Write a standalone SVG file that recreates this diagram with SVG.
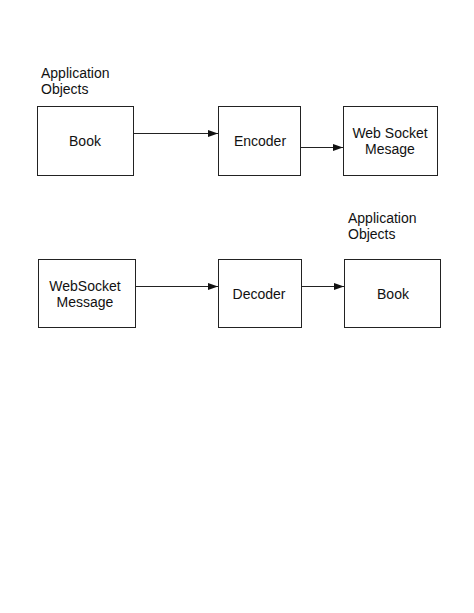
<svg xmlns="http://www.w3.org/2000/svg" width="474" height="613" viewBox="0 0 474 613">
<style>
.box{fill:#fff;stroke:#222;stroke-width:1}
.t{font-family:"Liberation Sans",Arial,sans-serif;font-size:14px;fill:#111}
.c{text-anchor:middle}
.ln{stroke:#222;stroke-width:1;fill:none}
</style>
<defs>
<marker id="ah" markerWidth="10" markerHeight="7" refX="10" refY="3.5" orient="auto" markerUnits="userSpaceOnUse">
<path d="M0,0 L10,3.5 L0,7 Z" fill="#111"/>
</marker>
</defs>
<rect width="474" height="613" fill="#fff"/>
<g id="label1"><text class="t" x="41" y="78">Application</text><text class="t" x="41" y="94">Objects</text></g>
<g id="label2"><text class="t" x="348" y="223">Application</text><text class="t" x="348" y="239">Objects</text></g>
<g id="book1"><rect class="box" x="37.5" y="106.5" width="96" height="69"/><text class="t c" x="85" y="146">Book</text></g>
<g id="encoder"><rect class="box" x="218.5" y="106.5" width="82" height="69"/><text class="t c" x="260" y="146">Encoder</text></g>
<g id="wsmsg1"><rect class="box" x="343.5" y="106.5" width="94" height="69"/><text class="t c" x="390" y="138">Web Socket</text><text class="t c" x="390" y="154">Mesage</text></g>
<g id="wsmsg2"><rect class="box" x="38.5" y="259.5" width="97" height="68"/><text class="t c" x="85" y="291">WebSocket</text><text class="t c" x="85" y="307">Message</text></g>
<g id="decoder"><rect class="box" x="218.5" y="259.5" width="83" height="68"/><text class="t c" x="259" y="299">Decoder</text></g>
<g id="book2"><rect class="box" x="344.5" y="259.5" width="96" height="68"/><text class="t c" x="393" y="299">Book</text></g>
<g id="connectors">
<line class="ln" x1="134" y1="133.5" x2="218" y2="133.5" marker-end="url(#ah)"/>
<line class="ln" x1="301" y1="147.5" x2="343" y2="147.5" marker-end="url(#ah)"/>
<line class="ln" x1="136" y1="286.5" x2="218" y2="286.5" marker-end="url(#ah)"/>
<line class="ln" x1="302" y1="286.5" x2="344" y2="286.5" marker-end="url(#ah)"/>
</g>
</svg>
